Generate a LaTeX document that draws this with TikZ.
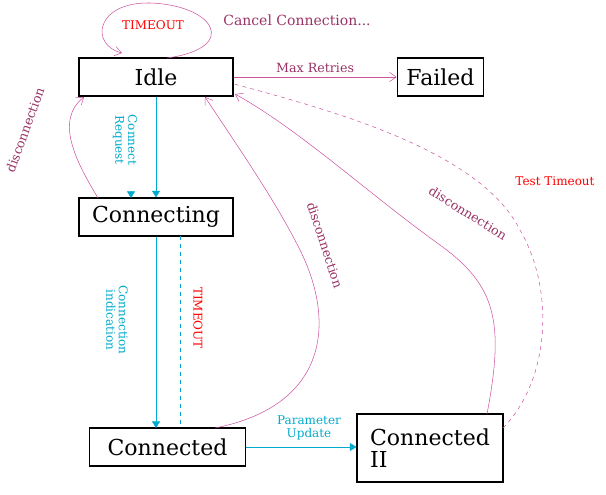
\documentclass[tikz,border=0pt]{standalone}
\usepackage{fontspec}
\setmainfont{DejaVu Serif}
\usetikzlibrary{arrows.meta}
\definecolor{pk}{HTML}{CC55A0}
\definecolor{pl}{HTML}{993366}
\definecolor{cy}{HTML}{00AACC}
\begin{document}
\begin{tikzpicture}[x=0.75pt,y=-0.75pt,
  st/.style={draw,thick,minimum height=28.5pt,font=\fontsize{16.5}{17}\selectfont},
  pa/.style={draw=pk,-{Straight Barb[length=5pt,width=7pt]}},
  ca/.style={draw=cy,-{Triangle[length=5pt,width=6pt]}},
  lp/.style={text=pl,font=\fontsize{9.5}{10}\selectfont},
  lr/.style={text=red,font=\fontsize{9}{10}\selectfont},
  lc/.style={text=cy,font=\fontsize{9}{9.5}\selectfont,align=center}]
\useasboundingbox (0,0) rectangle (606,495);
\node[st,minimum width=115.5pt] (idle) at (156,77) {Idle};
\node[st,minimum width=65pt] (failed) at (440.5,77) {Failed};
\node[st,minimum width=115.5pt] (conn) at (156,217) {Connecting};
\node[st,minimum width=117.5pt] (cd) at (167.5,447) {Connected};
\node[st,minimum width=109.5pt,minimum height=51pt,align=left] (c2) at (430,448) {Connected\\II};
% self loop
\draw[pa] (167,58) .. controls (240,48) and (215,5) .. (150,3) .. controls (95,2) and (90,45) .. (122,53);
\node[lr] (t1) at (153,25) {TIMEOUT};
\node[lp,font=\fontsize{10.5}{11}\selectfont] (cc) at (297,20) {Cancel Connection...};
% idle-failed
\draw[pa] (idle.east) -- (failed.west) node[midway,above,lp] {Max Retries};
% idle-connecting
\draw[ca] (idle.south) -- (conn.north);
\node[lc,rotate=-90] (cr) at (125,140) {Connect\\Request};
\coordinate (s1) at (131,195);
\draw[ca] (s1) -- ++(0,3);
% connecting -> idle
\draw[pa] (98,198) .. controls (75,160) and (55,120) .. (84,97);
\node[lp,rotate=70] (d1) at (25,130) {disconnection};
% connecting-connected
\draw[ca] (conn.south) -- (156,428);
\node[lc,rotate=-90] (ci) at (117,320) {Connection\\indication};
\draw[cy,dashed] (180,236) -- (180,428);
\node[lr,rotate=-90] (t2) at (198,318) {TIMEOUT};
% connected -> idle
\draw[pa] (215,428) .. controls (330,405) and (335,320) .. (300,250) .. controls (275,200) and (240,150) .. (205,97);
\node[lp,rotate=-72] (d2) at (325,245) {disconnection};
% connected->c2
\draw[ca] (cd.east) -- (c2.west|-cd.east);
\node[lc] (pu) at (309,428) {Parameter\\Update};
% c2 -> idle
\draw[pa] (487,414) .. controls (505,320) and (495,285) .. (440,245) .. controls (370,195) and (300,130) .. (235,94);
\node[lp,rotate=-32] (d3) at (468,213) {disconnection};
\draw[pk,dashed] (503,428) .. controls (550,380) and (555,290) .. (520,230) .. controls (480,150) and (330,110) .. (234,84);
\node[lr] (t3) at (555,181) {Test Timeout};
\end{tikzpicture}
\end{document}
